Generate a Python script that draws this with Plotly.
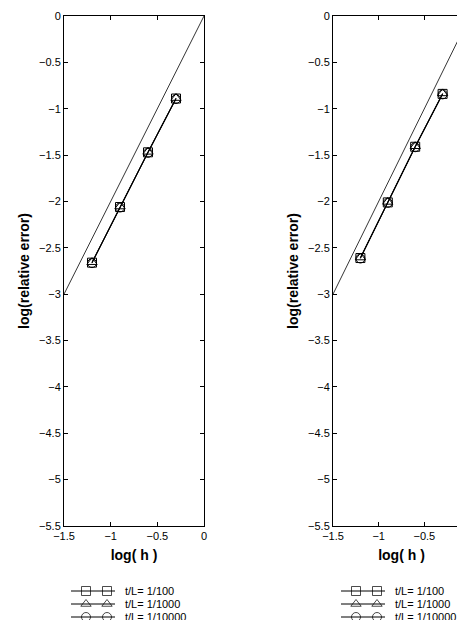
import plotly.graph_objects as go

log_h = [-1.2, -0.9, -0.6, -0.3]
left_err = [-2.66, -2.06, -1.47, -0.89]
right_err = [-2.61, -2.01, -1.41, -0.84]
ref_x = [-1.5, 0]
ref_y = [-3, 0]
series_names = ["t/L= 1/100", "t/L= 1/1000", "t/L= 1/10000"]
symbols = ["square-open", "triangle-up-open", "circle-open"]
offsets = [0.0, 0.005, -0.005]

W, H = 465, 620
fig = go.Figure()
F = "Liberation Sans, Arial, sans-serif"

for i, (xa, ya, err) in enumerate([("x", "y", left_err), ("x2", "y2", right_err)]):
    fig.add_trace(go.Scatter(x=ref_x, y=ref_y, mode="lines", line=dict(color="black", width=0.8),
                             xaxis=xa, yaxis=ya, showlegend=False, cliponaxis=True))
    for s, sym in enumerate(symbols):
        fig.add_trace(go.Scatter(x=log_h, y=[v + offsets[s] for v in err], mode="lines+markers",
                                 line=dict(color="black", width=1),
                                 marker=dict(symbol=sym, size=9, color="black", line=dict(width=1)),
                                 xaxis=xa, yaxis=ya, showlegend=False))

# manual legends on a pixel-space overlay axis
for x0 in [63, 333]:
    for r, (name, sym) in enumerate(zip(series_names, symbols)):
        yy = 583 + 13 * r
        fig.add_trace(go.Scatter(x=[x0, x0 + 15, x0 + 36, x0 + 44], y=[yy] * 4, mode="lines+markers",
                                 line=dict(color="black", width=1),
                                 marker=dict(symbol=sym, size=[0, 9, 9, 0], color="black", line=dict(width=1)),
                                 xaxis="x3", yaxis="y3", showlegend=False))
        fig.add_annotation(x=x0 + 52, y=yy, xref="x3", yref="y3", text=name, showarrow=False,
                           xanchor="left", font=dict(size=11, family=F, color="black"))

ax = dict(showgrid=False, zeroline=False, ticks="inside", mirror="ticks", showline=True,
          linecolor="black", linewidth=1, tickcolor="black", ticklen=4, automargin=False,
          tickfont=dict(size=11, family=F, color="black"))
xt = dict(text="<b>log( h )</b>", font=dict(size=14, family=F, color="black"), standoff=8)
yt = dict(text="<b>log(relative error)</b>", font=dict(size=14, family=F, color="black"), standoff=6)
ydom = [102 / H, 1 - 8 / H]
fig.update_layout(
    width=W, height=H, margin=dict(l=0, r=0, t=0, b=0, autoexpand=False),
    paper_bgcolor="white", plot_bgcolor="rgba(0,0,0,0)",
    xaxis=dict(**ax, domain=[56 / W, 196 / W], range=[-1.5, 0], dtick=0.5, title=xt, anchor="y"),
    yaxis=dict(**ax, domain=ydom, range=[-5.5, 0], dtick=0.5, title=yt, anchor="x"),
    xaxis2=dict(**ax, domain=[325 / W, 462 / W], range=[-1.5, 0], dtick=0.5, title=xt, anchor="y2"),
    yaxis2=dict(**ax, domain=ydom, range=[-5.5, 0], dtick=0.5, title=yt, anchor="x2"),
    xaxis3=dict(domain=[0, 1], range=[0, W], visible=False, anchor="y3", automargin=False),
    yaxis3=dict(domain=[0, 1], range=[H, 0], visible=False, anchor="x3", automargin=False),
)
fig.write_html("out.html")
